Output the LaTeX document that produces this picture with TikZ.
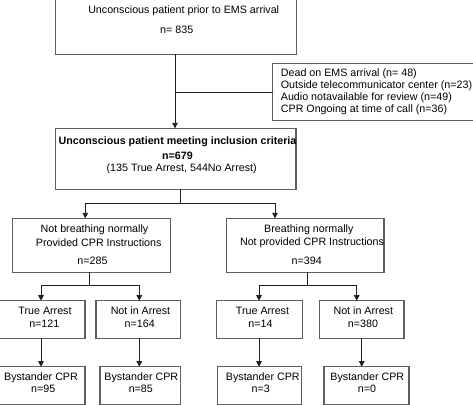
\documentclass[tikz,border=0pt]{standalone}
\usepackage{fontspec}
\setmainfont{Liberation Sans}
\usetikzlibrary{arrows.meta}
\definecolor{boxgray}{RGB}{95,95,95}
\definecolor{conncol}{RGB}{30,30,30}
\begin{document}
\begin{tikzpicture}[x=1pt,y=-1pt,
  box/.style={draw=boxgray, line width=1.3pt, inner sep=0pt, outer sep=0pt, rectangle},
  txt/.style={inner sep=0pt, font=\fontsize{10.7}{12}\selectfont},
  conn/.style={draw=conncol, line width=0.9pt},
  arr/.style={conn, -{Triangle[length=5.5pt,width=5.5pt]}}]
\useasboundingbox (0,0) rectangle (473,404);
\clip (0,0) rectangle (473,404);
\fill[white] (0,0) rectangle (473,404);

% boxes
\node[box, minimum width=240.8pt, minimum height=67.3pt] (top) at (176.1,20.65) {};
\node[box, minimum width=209.3pt, minimum height=57.4pt] (excl) at (377.35,92) {};
\node[box, minimum width=240.3pt, minimum height=61pt] (incl) at (175.85,158.8) {};
\node[box, minimum width=158pt, minimum height=54pt] (L2a) at (91.7,245.3) {};
\node[box, minimum width=157.3pt, minimum height=54pt] (L2b) at (305.35,245.3) {};
\node[box, minimum width=86pt, minimum height=37.6pt] (L3a) at (42,319.5) {};
\node[box, minimum width=84.7pt, minimum height=37.6pt] (L3b) at (138.35,319.5) {};
\node[box, minimum width=85.6pt, minimum height=37.6pt] (L3c) at (259.5,319.5) {};
\node[box, minimum width=84.7pt, minimum height=37.6pt] (L3d) at (361.65,319.5) {};
\node[box, minimum width=86pt, minimum height=37.6pt] (L4a) at (42,385.5) {};
\node[box, minimum width=80.7pt, minimum height=37.6pt] (L4b) at (140.35,385.5) {};
\node[box, minimum width=84.4pt, minimum height=37.6pt] (L4c) at (259.5,385.5) {};
\node[box, minimum width=85pt, minimum height=37.6pt] (L4d) at (366.5,385.5) {};

% texts
\node[txt] (t1) at (183.7,11) {Unconscious patient prior to EMS arrival};
\node[txt] (t2) at (176.7,30) {n= 835};
\node[txt, anchor=west, align=left] (tx) at (280.7,91.3) {Dead on EMS arrival (n= 48)\\Outside telecommunicator center (n=23)\\Audio notavailable for review (n=49)\\CPR Ongoing at time of call (n=36)};
\node[txt, font=\fontsize{10.7}{12}\selectfont\bfseries] (i1) at (177.5,142) {Unconscious patient meeting inclusion criteria};
\node[txt, font=\fontsize{10.7}{12}\selectfont\bfseries] (i2) at (177.5,155.7) {n=679};
\node[txt] (i3) at (181.7,169) {(135 True Arrest, 544No Arrest)};
\node[txt] (a1) at (94.5,229.3) {Not breathing normally};
\node[txt] (a2) at (98.7,242.3) {Provided CPR Instructions};
\node[txt] (a3) at (92.5,261) {n=285};
\node[txt] (b1) at (308.8,229.3) {Breathing normally};
\node[txt] (b2) at (312,242.3) {Not provided CPR Instructions};
\node[txt] (b3) at (306.7,261) {n=394};
\node[txt] (c1) at (45,311) {True Arrest};
\node[txt] (c2) at (44.3,324) {n=121};
\node[txt] (d1) at (140.5,311) {Not in Arrest};
\node[txt] (d2) at (139.7,324) {n=164};
\node[txt] (e1) at (262.5,311) {True Arrest};
\node[txt] (e2) at (260.5,324) {n=14};
\node[txt] (f1) at (363.3,311) {Not in Arrest};
\node[txt] (f2) at (363,324) {n=380};
\node[txt] (g1) at (41,377.3) {Bystander CPR};
\node[txt] (g2) at (43.3,389.3) {n=95};
\node[txt] (h1) at (141.3,377.3) {Bystander CPR};
\node[txt] (h2) at (140.8,389.3) {n=85};
\node[txt] (k1) at (262.8,377.3) {Bystander CPR};
\node[txt] (k2) at (260.8,389.3) {n=3};
\node[txt] (m1) at (367.3,377.3) {Bystander CPR};
\node[txt] (m2) at (367,389.3) {n=0};

% connectors
\coordinate (s0) at (175,54.3);
\draw[arr] (s0) -- (s0 |- incl.north);
\draw[conn] (s0 |- excl.west) -- (excl.west);

\coordinate (j1) at (180.7,203.3);
\coordinate (j1l) at (85.3,203.3);
\coordinate (j1r) at (275,203.3);
\draw[conn] (j1 |- incl.south) -- (j1);
\draw[conn] (j1l) -- (j1r);
\draw[arr] (j1l) -- (j1l |- L2a.north);
\draw[arr] (j1r) -- (j1r |- L2b.north);

\coordinate (j2) at (89,285);
\coordinate (j2l) at (41,285);
\coordinate (j2r) at (139.3,285);
\draw[conn] (j2 |- L2a.south) -- (j2);
\draw[conn] (j2l) -- (j2r);
\draw[arr] (j2l) -- (j2l |- L3a.north);
\draw[arr] (j2r) -- (j2r |- L3b.north);

\coordinate (j3) at (307.3,285);
\coordinate (j3l) at (259,285);
\coordinate (j3r) at (356.7,285);
\draw[conn] (j3 |- L2b.south) -- (j3);
\draw[conn] (j3l) -- (j3r);
\draw[arr] (j3l) -- (j3l |- L3c.north);
\draw[arr] (j3r) -- (j3r |- L3d.north);

\coordinate (v1) at (41,338.3);
\coordinate (v2) at (139.3,338.3);
\coordinate (v3) at (259,338.3);
\coordinate (v4) at (361.7,338.3);
\draw[arr] (v1 |- L3a.south) -- (v1 |- L4a.north);
\draw[arr] (v2 |- L3b.south) -- (v2 |- L4b.north);
\draw[arr] (v3 |- L3c.south) -- (v3 |- L4c.north);
\draw[arr] (v4 |- L3d.south) -- (v4 |- L4d.north);
\end{tikzpicture}
\end{document}
